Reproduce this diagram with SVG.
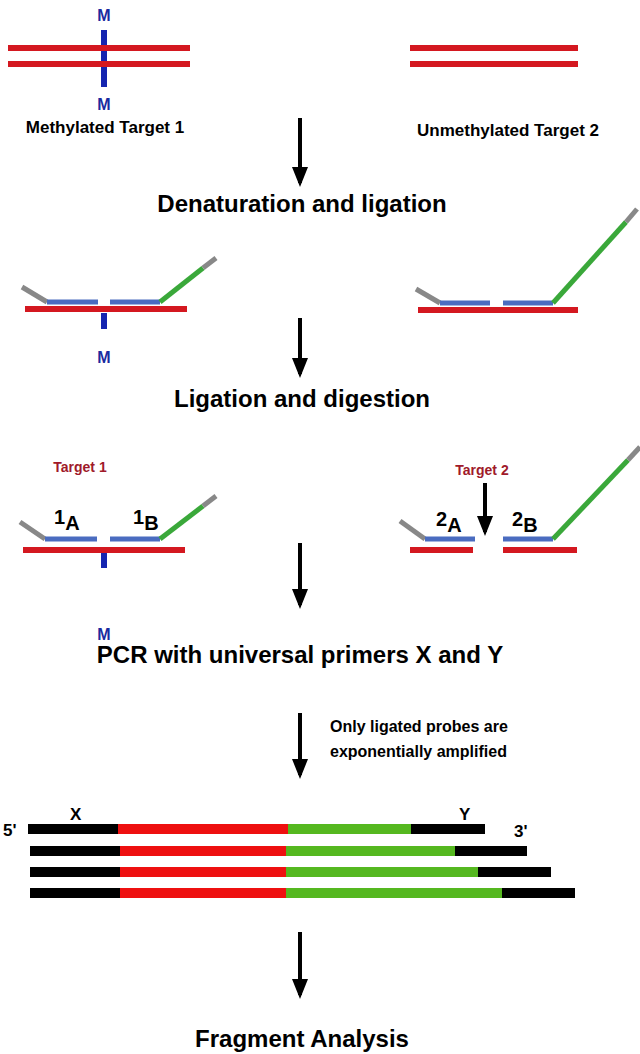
<svg xmlns="http://www.w3.org/2000/svg" width="640" height="1054" viewBox="0 0 640 1054">
<defs>
<marker id="ah" markerWidth="20" markerHeight="16" refX="16" refY="8" orient="auto" markerUnits="userSpaceOnUse" viewBox="0 0 20 16"><path d="M0,0 L20,8 L0,16 z" fill="#000"/></marker>
<style>
.red{stroke:#d41820;stroke-width:6;fill:none}
.blue{stroke:#4a6cc0;stroke-width:5;fill:none}
.grey{stroke:#888;stroke-width:5;fill:none}
.green{stroke:#3aa83a;stroke-width:5;fill:none}
.mt{stroke:#1525b0;stroke-width:6}
.arr{stroke:#000;stroke-width:4;fill:none;marker-end:url(#ah)}
text{font-family:"Liberation Sans",Arial,sans-serif;font-weight:bold}
.h{font-size:24px;text-anchor:middle}
.m{fill:#1a2ba0;font-size:16px;text-anchor:middle}
.lbl{font-size:17px;text-anchor:middle}
.tg{fill:#a01a2a;font-size:14px;text-anchor:middle}
.pl{font-size:20px}
.blk{stroke:#000;stroke-width:10}
.rb{stroke:#ee1010;stroke-width:10}
.gb{stroke:#55b820;stroke-width:10}
</style>
</defs>
<g id="target1">
<line class="mt" x1="104" y1="30" x2="104" y2="87"/>
<line class="red" x1="8" y1="48" x2="190" y2="48"/>
<line class="red" x1="8" y1="64" x2="190" y2="64"/>
<text class="m" x="104" y="21">M</text>
<text class="m" x="104" y="110">M</text>
<text class="lbl" x="105" y="133">Methylated Target 1</text>
</g>
<g id="target2">
<line class="red" x1="410" y1="48" x2="578" y2="48"/>
<line class="red" x1="410" y1="64" x2="578" y2="64"/>
<text class="lbl" x="508" y="136">Unmethylated Target 2</text>
</g>
<g id="connectors">
<line class="arr" x1="300" y1="118" x2="300" y2="183"/>
<line class="arr" x1="300" y1="318" x2="300" y2="374"/>
<line class="arr" x1="300" y1="543" x2="300" y2="605"/>
<line class="arr" x1="300" y1="713" x2="300" y2="775"/>
<line class="arr" x1="300" y1="932" x2="300" y2="995"/>
<line class="arr" x1="485" y1="483" x2="485" y2="532"/>
</g>
<text class="h" x="302" y="212">Denaturation and ligation</text>
<g id="probe1">
<line class="mt" x1="104" y1="313" x2="104" y2="329"/>
<line class="red" x1="25" y1="309" x2="187" y2="309"/>
<polyline class="grey" points="22,287 47,302"/>
<line class="blue" x1="47" y1="302" x2="98" y2="302"/>
<line class="blue" x1="110" y1="302" x2="160" y2="302"/>
<polyline class="green" points="160,302 203,268"/>
<polyline class="grey" points="203,268 216,258"/>
<text class="m" x="104" y="363">M</text>
</g>
<g id="probe2">
<line class="red" x1="418" y1="310" x2="578" y2="310"/>
<polyline class="grey" points="416,289 440,303"/>
<line class="blue" x1="440" y1="303" x2="490" y2="303"/>
<line class="blue" x1="503" y1="303" x2="553" y2="303"/>
<polyline class="green" points="553,303 626,222"/>
<polyline class="grey" points="626,222 637,209"/>
</g>
<text class="h" x="302" y="407">Ligation and digestion</text>
<g id="ligated1">
<text class="tg" x="80" y="472">Target 1</text>
<line class="mt" x1="104" y1="553" x2="104" y2="568"/>
<line class="red" x1="23" y1="550" x2="185" y2="550"/>
<polyline class="grey" points="20,522 45,539"/>
<line class="blue" x1="45" y1="539" x2="97" y2="539"/>
<line class="blue" x1="110" y1="539" x2="160" y2="539"/>
<polyline class="green" points="160,539 203,506"/>
<polyline class="grey" points="203,506 216,496"/>
<text class="pl" x="54" y="524">1<tspan dy="6">A</tspan></text>
<text class="pl" x="133" y="524">1<tspan dy="6">B</tspan></text>
<text class="m" x="104" y="640">M</text>
</g>
<g id="digested2">
<text class="tg" x="482" y="475">Target 2</text>
<line class="red" x1="410" y1="550" x2="473" y2="550"/>
<line class="red" x1="503" y1="550" x2="577" y2="550"/>
<polyline class="grey" points="400,521 425,539"/>
<line class="blue" x1="425" y1="539" x2="475" y2="539"/>
<line class="blue" x1="503" y1="539" x2="553" y2="539"/>
<polyline class="green" points="553,539 628,460"/>
<polyline class="grey" points="628,460 640,447"/>
<text class="pl" x="436" y="526">2<tspan dy="6">A</tspan></text>
<text class="pl" x="512" y="526">2<tspan dy="6">B</tspan></text>
</g>
<text class="h" x="300" y="663">PCR with universal primers X and Y</text>
<text x="330" y="732" font-size="16">Only ligated probes are</text>
<text x="330" y="757" font-size="16">exponentially amplified</text>
<g id="products">
<text x="3" y="836" font-size="17">5'</text>
<text x="70" y="820" font-size="17">X</text>
<text x="459" y="820" font-size="17">Y</text>
<text x="514" y="837" font-size="17">3'</text>
<line class="blk" x1="28" y1="829" x2="118" y2="829"/><line class="rb" x1="118" y1="829" x2="288" y2="829"/><line class="gb" x1="288" y1="829" x2="411" y2="829"/><line class="blk" x1="411" y1="829" x2="485" y2="829"/>
<line class="blk" x1="30" y1="851" x2="120" y2="851"/><line class="rb" x1="120" y1="851" x2="286" y2="851"/><line class="gb" x1="286" y1="851" x2="455" y2="851"/><line class="blk" x1="455" y1="851" x2="527" y2="851"/>
<line class="blk" x1="30" y1="872" x2="120" y2="872"/><line class="rb" x1="120" y1="872" x2="286" y2="872"/><line class="gb" x1="286" y1="872" x2="478" y2="872"/><line class="blk" x1="478" y1="872" x2="551" y2="872"/>
<line class="blk" x1="30" y1="893" x2="120" y2="893"/><line class="rb" x1="120" y1="893" x2="286" y2="893"/><line class="gb" x1="286" y1="893" x2="502" y2="893"/><line class="blk" x1="502" y1="893" x2="575" y2="893"/>
</g>
<text class="h" x="302" y="1047">Fragment Analysis</text>
</svg>
